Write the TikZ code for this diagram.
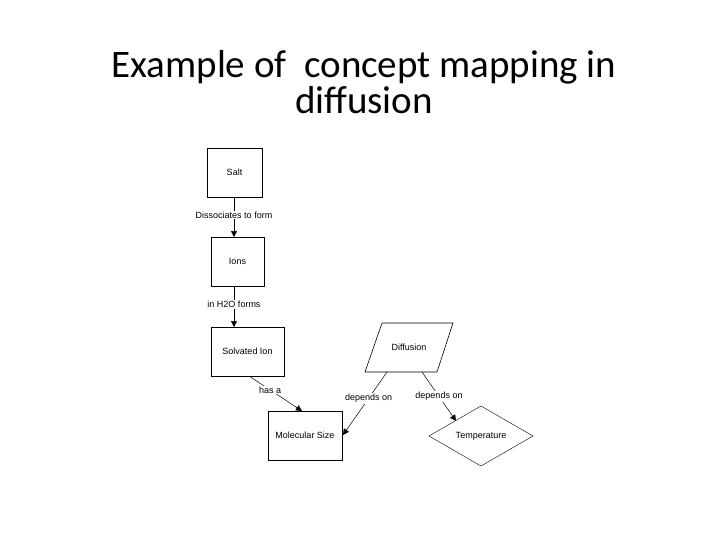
\documentclass[tikz,border=0pt]{standalone}
\usepackage{fontspec}
\setmainfont{Liberation Sans}
\newfontfamily\titlefont{Carlito}
\usetikzlibrary{arrows.meta}
\begin{document}
\begin{tikzpicture}[x=1pt,y=-1pt,
  lbl/.style={font=\fontsize{9}{10}\selectfont,fill=white,inner sep=1pt},
  shp/.style={draw,line width=0.6pt},
  arr/.style={draw,line width=0.5pt,-{Triangle[length=6pt,width=6pt]}}]
\useasboundingbox (0,0) rectangle (728,546);
\node[font=\titlefont\fontsize{39}{36}\selectfont,align=center] (title) at (364,82) {Example of~ concept mapping in\\diffusion};
\draw[shp] (207,148) rectangle (262,197);
\node[lbl,fill=none] (salt) at (234.5,172.5) {Salt};
\coordinate (saltb) at (234,197);
\draw[shp] (211,237) rectangle (264,286);
\node[lbl,fill=none] (ions) at (237.5,261.5) {Ions};
\coordinate (ionst) at (234,237);
\coordinate (ionsb) at (234,286);
\draw[shp] (211,327) rectangle (284,376);
\node[lbl,fill=none] (solv) at (247.5,351.5) {Solvated Ion};
\coordinate (solvt) at (234,327);
\coordinate (solvb) at (249,376);
\draw[shp] (268,411) rectangle (342,460);
\node[lbl,fill=none] (mol) at (305,435.5) {Molecular Size};
\coordinate (molt) at (302,411);
\coordinate (molr) at (343,435);
\draw[shp] (382,323) -- (453,323) -- (437,372) -- (365,372) -- cycle;
\node[lbl,fill=none] (diff) at (409,347) {Diffusion};
\coordinate (diffa) at (387,372);
\coordinate (diffb) at (422,372);
\draw[shp,line width=0.4pt] (429,436) -- (481,406) -- (533,436) -- (481,466) -- cycle;
\node[lbl,fill=none] (temp) at (481,436) {Temperature};
\coordinate (tempt) at (456,421);
\draw[arr] (saltb) -- node[lbl,pos=0.45] {Dissociates to form} (ionst);
\draw[arr] (ionsb) -- node[lbl,pos=0.45] {in H2O forms} (solvt);
\draw[arr] (solvb) -- node[lbl,pos=0.4] {has a} (molt);
\draw[arr] (diffa) -- node[lbl,pos=0.42] {depends on} (molr);
\draw[arr] (diffb) -- node[lbl,pos=0.5] {depends on} (tempt);
\end{tikzpicture}
\end{document}
